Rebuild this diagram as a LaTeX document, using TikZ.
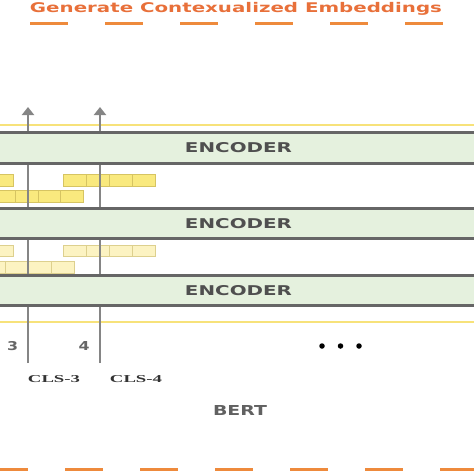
\documentclass[tikz,border=0pt]{standalone}
\usepackage{fontspec}
\setmainfont{Liberation Serif}
\setsansfont{DejaVu Sans}
\usetikzlibrary{arrows.meta}
\definecolor{orng}{HTML}{EE8A3C}
\definecolor{ttl}{HTML}{E8703A}
\definecolor{yl}{HTML}{F7E27A}
\definecolor{encfill}{HTML}{E5F1DE}
\definecolor{encline}{HTML}{666666}
\definecolor{vline}{HTML}{858585}
\definecolor{blkA}{HTML}{F9E97E}
\definecolor{blkAd}{HTML}{D6C462}
\definecolor{blkB}{HTML}{FCF3C2}
\definecolor{blkBd}{HTML}{DDD08E}
\definecolor{txt}{HTML}{4F4F4F}
\tikzset{
  dashline/.style={orng, line width=3pt, dash pattern=on 38pt off 37pt},
  yline/.style={yl, line width=2.8pt},
  vl/.style={vline, line width=2.6pt, -{Triangle[width=12pt,length=8pt]}},
  enc/.style={fill=encfill, minimum width=500pt, inner sep=0pt, text=txt},
  encborder/.style={encline, line width=2.8pt},
  blka/.style={fill=blkA, draw=blkAd, line width=0.8pt, minimum height=12pt, minimum width=23pt, inner sep=0pt},
  blkb/.style={fill=blkB, draw=blkBd, line width=0.8pt, minimum height=11.5pt, minimum width=23pt, inner sep=0pt},
  lbl/.style={inner sep=0pt, text=txt},
  dot/.style={circle, fill=black, minimum size=5.5pt, inner sep=0pt}
}
\newcommand{\enctext}{\resizebox{107pt}{10pt}{\sffamily\bfseries ENCODER}}
\begin{document}
\begin{tikzpicture}[x=1pt,y=-1pt]
\useasboundingbox (0,0) rectangle (474,474);
% title
\node[inner sep=0pt, text=ttl] (title) at (236,8.5) {\resizebox*{412pt}{13pt}{\sffamily\bfseries Generate Contexualized Embeddings}};
\draw[dashline] (30,23) -- (480,23);
\draw[dashline] (-10,469) -- (484,469);
% yellow lines
\draw[yline] (0,125) -- (474,125);
\draw[yline] (0,322) -- (474,322);
% blocks set A
\foreach \x [count=\i] in {-10,63,86,109,132} \node[blka, anchor=north west] (a1\i) at (\x,174) {};
\foreach \x [count=\i] in {-8,15,38,60} \node[blka, anchor=north west, minimum width=22.5pt] (a2\i) at (\x,190) {};
% blocks set B
\foreach \x [count=\i] in {-10,63,86,109,132} \node[blkb, anchor=north west] (b1\i) at (\x,244.5) {};
\foreach \x [count=\i] in {-18,5,28,51} \node[blkb, anchor=north west] (b2\i) at (\x,261) {};
% vertical lines with arrows
\coordinate (b3) at (28,363);
\coordinate (t3) at (28,107);
\coordinate (b4) at (100,363);
\coordinate (t4) at (100,107);
\draw[vl] (b3) -- (t3);
\draw[vl] (b4) -- (t4);
% encoders
\node[enc, minimum height=30pt] (e1) at (237,148) {};
\node[enc, minimum height=29pt] (e2) at (237,223.5) {};
\node[enc, minimum height=29pt] (e3) at (237,290.5) {};
\foreach \e in {e1,e2,e3}{
  \draw[encborder] (\e.north west) -- (\e.north east);
  \draw[encborder] (\e.south west) -- (\e.south east);
  \node[lbl] at ([xshift=1.5pt]\e.center) {\enctext};
}
% labels
\node[lbl, text=black!60] (n3) at (12.5,346) {\resizebox{11pt}{9pt}{\sffamily\bfseries 3}};
\node[lbl, text=black!60] (n4) at (84,346) {\resizebox{11pt}{9pt}{\sffamily\bfseries 4}};
\node[lbl, text=black!80] (c3) at (54,379) {\resizebox{52pt}{7pt}{\bfseries CLS-3}};
\node[lbl, text=black!80] (c4) at (136,379) {\resizebox{52pt}{7pt}{\bfseries CLS-4}};
\node[dot] (d1) at (322,346) {};
\node[dot] (d2) at (340.5,346) {};
\node[dot] (d3) at (359,346) {};
\node[lbl, text=black!62] (bert) at (240,410) {\resizebox{54pt}{10pt}{\sffamily\bfseries BERT}};
\end{tikzpicture}
\end{document}
